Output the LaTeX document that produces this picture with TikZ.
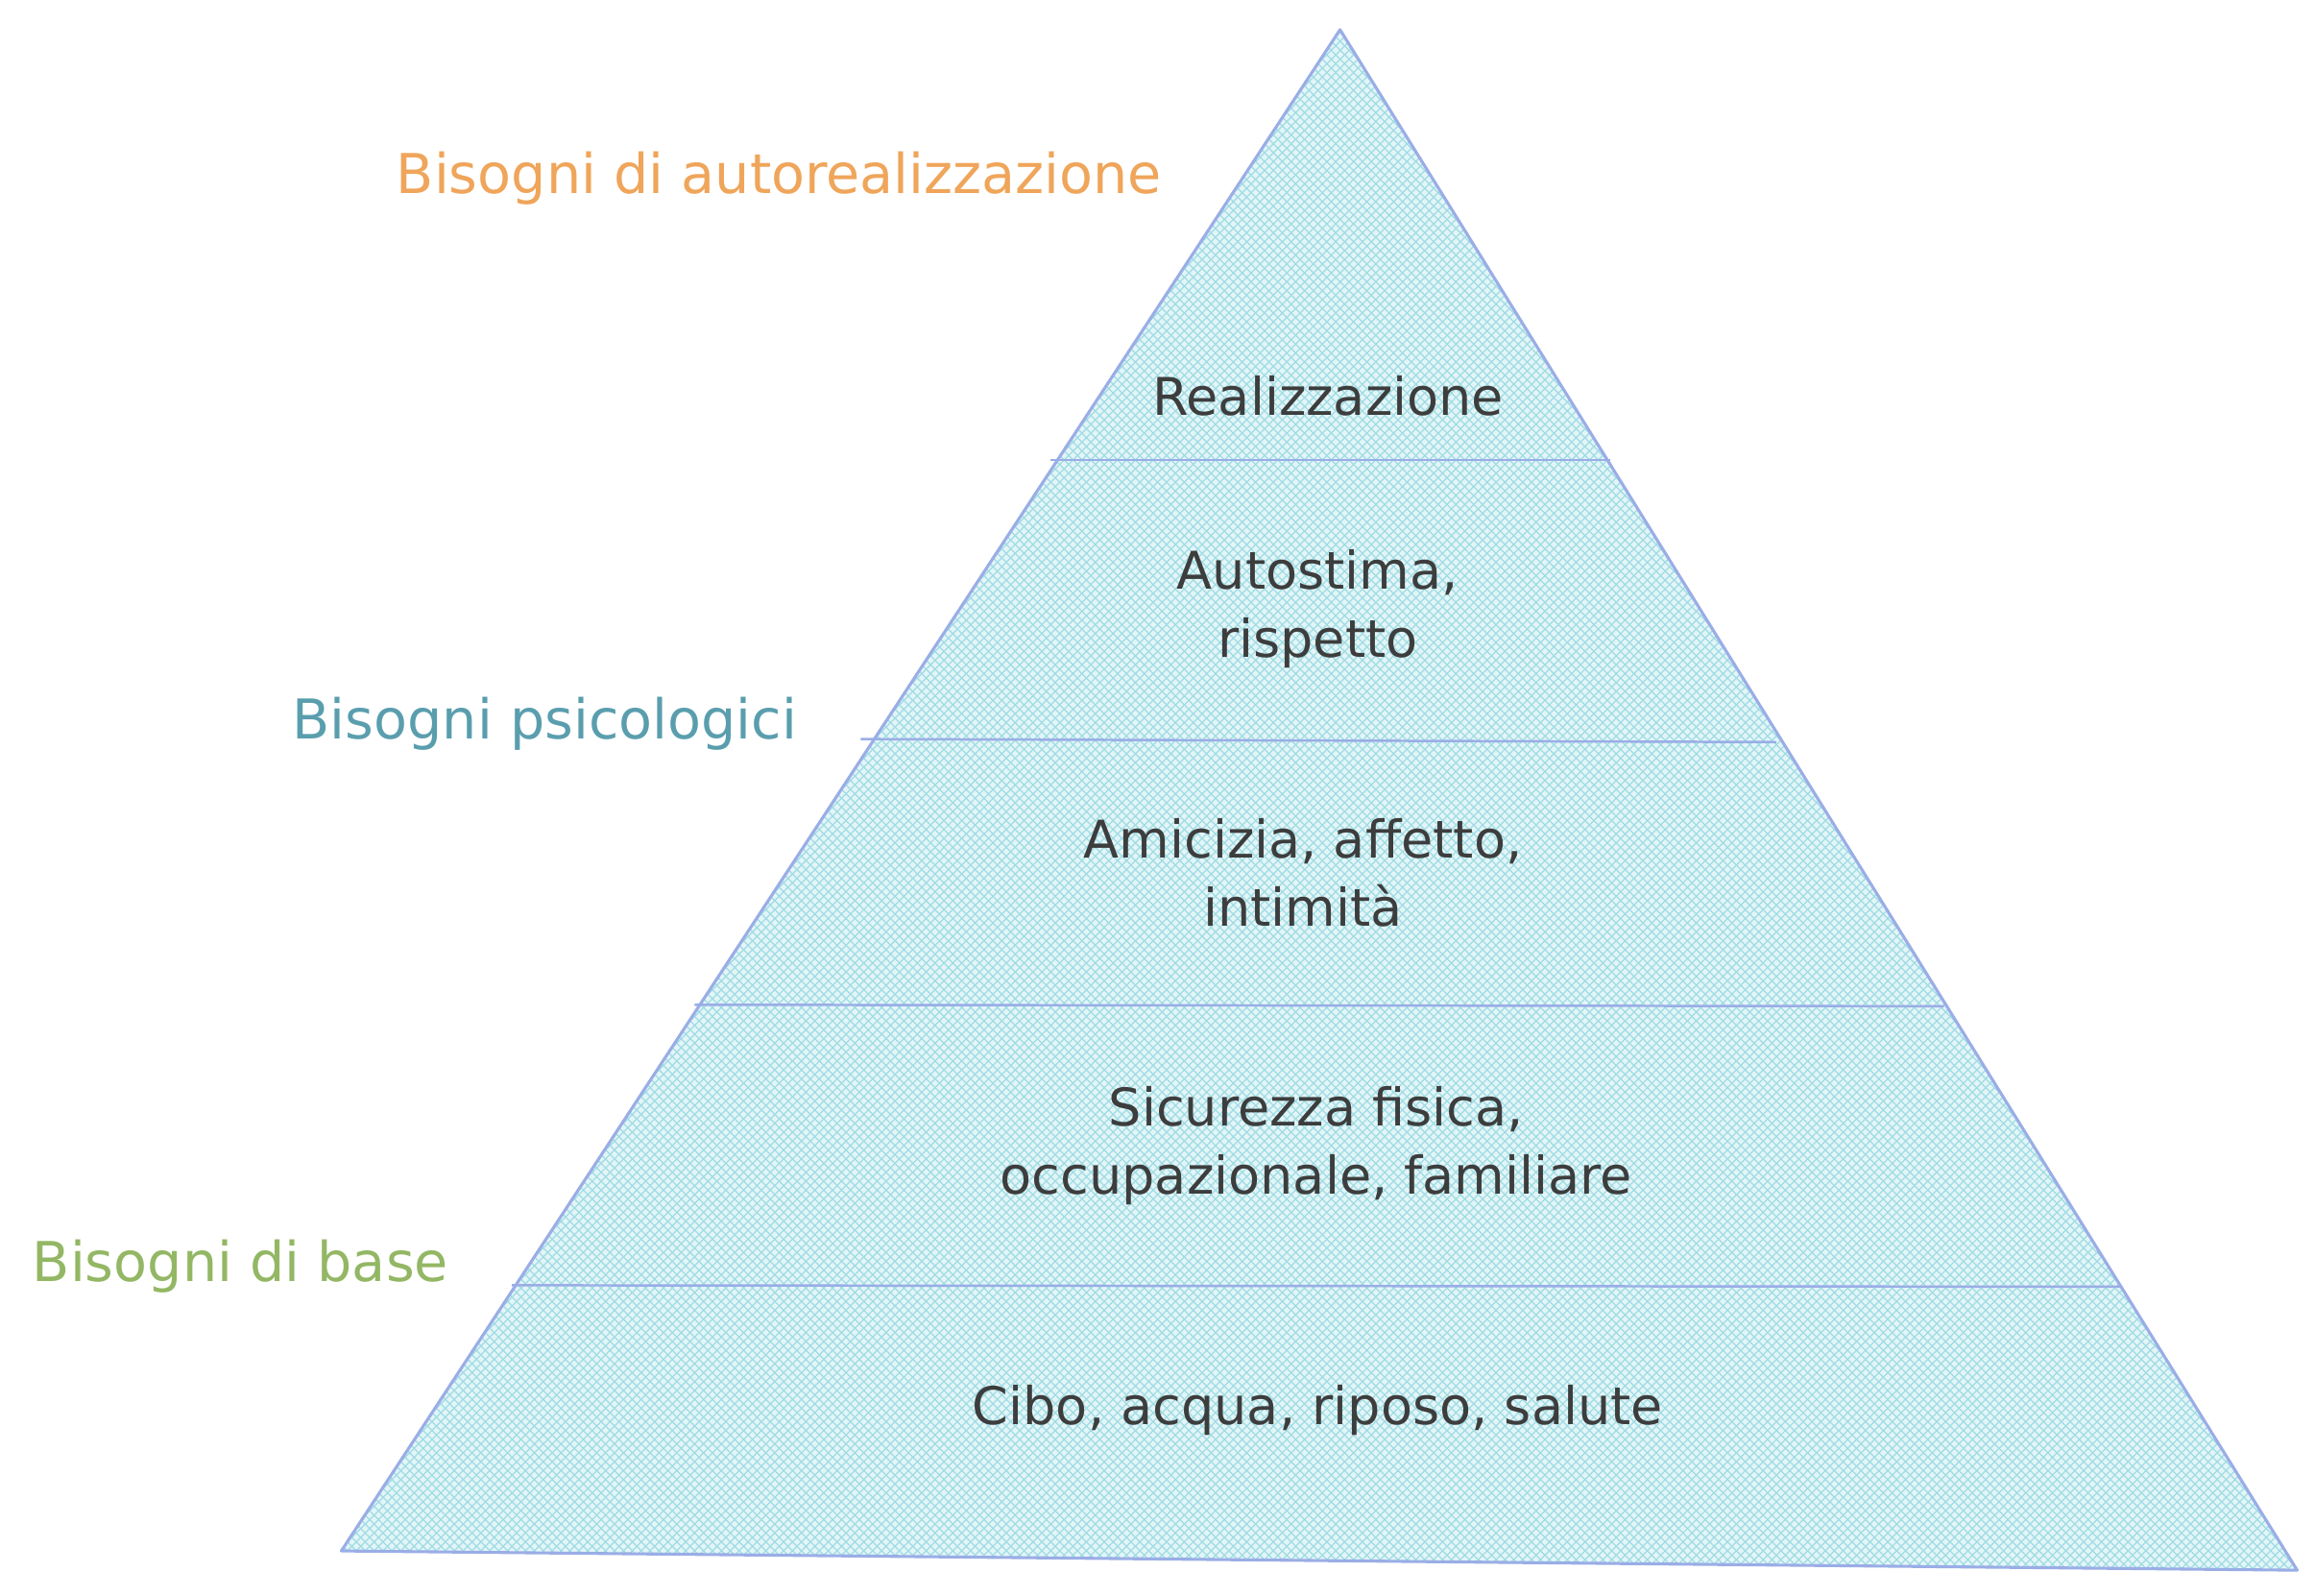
\documentclass[tikz,border=0pt]{standalone}
\usepackage{fontspec}
\setmainfont{DejaVu Sans}
\usetikzlibrary{patterns}
\definecolor{edge}{HTML}{9AADE6}
\definecolor{fillc}{HTML}{E3F5F7}
\definecolor{hatch}{HTML}{9FDCE4}
\definecolor{txt}{HTML}{3D3D3D}
\definecolor{orangec}{HTML}{EFA55A}
\definecolor{tealc}{HTML}{5A9EAE}
\definecolor{greenc}{HTML}{93B764}
\tikzset{
  lvl/.style={font=\fontsize{17.5}{23}\selectfont, text=txt, align=center},
  side/.style={font=\fontsize{18.5}{22}\selectfont},
  sep/.style={draw=edge, line width=0.8pt}
}
\begin{document}
\begin{tikzpicture}[x=0.5pt,y=-0.5pt]
\useasboundingbox (0,0) rectangle (1560,1075);
\coordinate (A) at (903,20);
\coordinate (BL) at (230,1045);
\coordinate (BR) at (1548,1058);
\fill[fillc] (A) -- (BR) -- (BL) -- cycle;
\fill[pattern=crosshatch, pattern color=hatch] (A) -- (BR) -- (BL) -- cycle;
\draw[edge, line width=1pt, line join=round] (A) -- (BR) -- (BL) -- cycle;
\coordinate (l1a) at (708,310); \coordinate (l1b) at (1085,310);
\coordinate (l2a) at (580,498); \coordinate (l2b) at (1197,500);
\coordinate (l3a) at (468,677); \coordinate (l3b) at (1310,678);
\coordinate (l4a) at (345,866); \coordinate (l4b) at (1430,867);
\draw[sep] (l1a) -- (l1b);
\draw[sep] (l2a) -- (l2b);
\draw[sep] (l3a) -- (l3b);
\draw[sep] (l4a) -- (l4b);
\node[lvl] (t1) at (895,267) {Realizzazione};
\node[lvl] (t2) at (888,410) {Autostima,\\rispetto};
\node[lvl] (t3) at (878,588) {Amicizia, affetto,\\intimità};
\node[lvl] (t4) at (887,772) {Sicurezza fisica,\\occupazionale, familiare};
\node[lvl] (t5) at (888,950) {Cibo, acqua, riposo, salute};
\node[side, text=orangec] (s1) at (525,120) {Bisogni di autorealizzazione};
\node[side, text=tealc] (s2) at (367,488) {Bisogni psicologici};
\node[side, text=greenc] (s3) at (162,853) {Bisogni di base};
\end{tikzpicture}
\end{document}
